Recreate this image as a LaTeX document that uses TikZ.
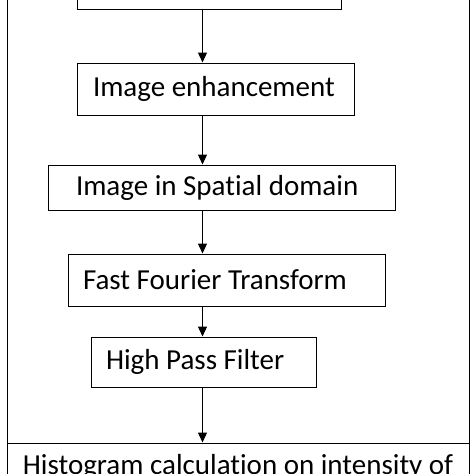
\documentclass[tikz,border=0pt]{standalone}
\usepackage{fontspec}
\setmainfont[Ligatures=NoCommon]{Carlito}
\usetikzlibrary{arrows.meta}
\tikzset{
	box/.style={draw,line width=1pt,inner ysep=0pt,font=\fontsize{29}{33}\selectfont},
	flow/.style={line width=1.2pt,-{Triangle[length=10pt,width=9pt]}}
}
\newcommand{\boxtext}[2]{\makebox[#1][l]{#2}}
\begin{document}
\begin{tikzpicture}[x=1pt,y=-1pt]
	\useasboundingbox (0,0) rectangle (474,474);
	% Outer frame
	\draw[line width=1pt] (7,-20) rectangle (469,494);
	% Steps
	\node[box,minimum width=264pt,minimum height=50pt] (top) at (209,-15.5) {};
	\node[box,inner xsep=16pt,minimum height=52pt] (enh) at (215.5,89) {\boxtext{245pt}{Image enhancement}};
	\node[box,inner xsep=28pt,minimum height=45pt] (spat) at (221.5,187.5) {\boxtext{291pt}{Image in Spatial domain}};
	\node[box,inner xsep=15pt,minimum height=52pt] (fft) at (226.5,280) {\boxtext{287pt}{Fast Fourier Transform}};
	\node[box,inner xsep=15pt,minimum height=50pt] (hpf) at (203.5,362) {\boxtext{195pt}{High Pass Filter}};
	\node[box,anchor=base,minimum width=462pt,text height=18pt,inner ysep=13pt] (hist) at (238,474) {Histogram calculation on intensity of};
	% Arrows
	\coordinate (axis) at (202.5,0);
	\draw[flow] (axis |- top.south) -- (axis |- enh.north);
	\draw[flow] (axis |- enh.south) -- (axis |- spat.north);
	\draw[flow] (axis |- spat.south) -- (axis |- fft.north);
	\draw[flow] (axis |- fft.south) -- (axis |- hpf.north);
	\draw[flow] (axis |- hpf.south) -- (axis |- hist.north);
\end{tikzpicture}
\end{document}
